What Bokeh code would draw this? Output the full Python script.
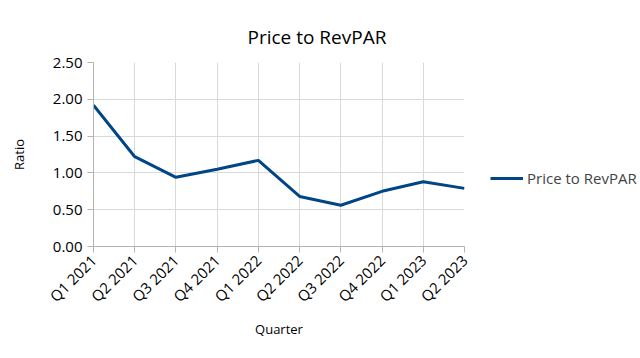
import math
from bokeh.plotting import figure
from bokeh.models import FixedTicker, Legend, LegendItem, Title, NumeralTickFormatter, Range1d
from bokeh.embed import file_html
from bokeh.resources import INLINE

quarters = ["Q1 2021", "Q2 2021", "Q3 2021", "Q4 2021", "Q1 2022",
            "Q2 2022", "Q3 2022", "Q4 2022", "Q1 2023", "Q2 2023"]
ratio = [1.92, 1.22, 0.94, 1.05, 1.17, 0.68, 0.56, 0.75, 0.88, 0.79]
y_ticks = [0.0, 0.5, 1.0, 1.5, 2.0, 2.5]

FONT = "Open Sans"
xs = list(range(len(quarters)))

p = figure(frame_width=371, frame_height=184, output_backend="svg", toolbar_location=None,
           x_range=Range1d(0, len(quarters) - 1), y_range=Range1d(0, 2.5),
           min_border_left=93, min_border_right=0, min_border_top=62, min_border_bottom=112)
p.outline_line_color = None

t = Title(text="Price to RevPAR", align="left", offset=154, text_font=FONT,
          text_font_size="19px", text_font_style="normal", text_color="#000000",
          vertical_align="middle", standoff=23)
p.add_layout(t, "above")

r = p.line(xs, ratio, line_color="#004586", line_width=3)

p.xaxis.ticker = FixedTicker(ticks=xs)
p.xaxis.major_label_overrides = {i: q for i, q in enumerate(quarters)}
p.xaxis.major_label_orientation = math.pi / 4
p.yaxis.ticker = FixedTicker(ticks=y_ticks)
p.yaxis.formatter = NumeralTickFormatter(format="0.00")

for ax in (p.xaxis[0], p.yaxis[0]):
    ax.axis_line_color = "#b3b3b3"
    ax.major_tick_line_color = "#b3b3b3"
    ax.major_tick_in = 0
    ax.major_tick_out = 6
    ax.minor_tick_line_color = None
    ax.major_label_text_font = FONT
    ax.major_label_text_font_size = "15px"
    ax.major_label_text_color = "#000000"
    ax.axis_label_text_font = FONT
    ax.axis_label_text_font_size = "13px"
    ax.axis_label_text_font_style = "normal"
    ax.axis_label_text_color = "#000000"

p.xaxis.axis_label = "Quarter"
p.yaxis.axis_label = "Ratio"
p.xaxis.axis_label_standoff = 4
p.yaxis.axis_label_standoff = 22

p.xgrid.grid_line_color = "#d9d9d9"
p.ygrid.grid_line_color = "#d9d9d9"

legend = Legend(items=[LegendItem(label="Price to RevPAR", renderers=[r])],
                location=(26, 58), border_line_color=None, background_fill_alpha=0,
                label_text_font=FONT, label_text_font_size="15px",
                glyph_width=33, padding=10, margin=0, label_standoff=4)
p.add_layout(legend, "right")

open("out.html", "w").write(file_html(p, INLINE))
